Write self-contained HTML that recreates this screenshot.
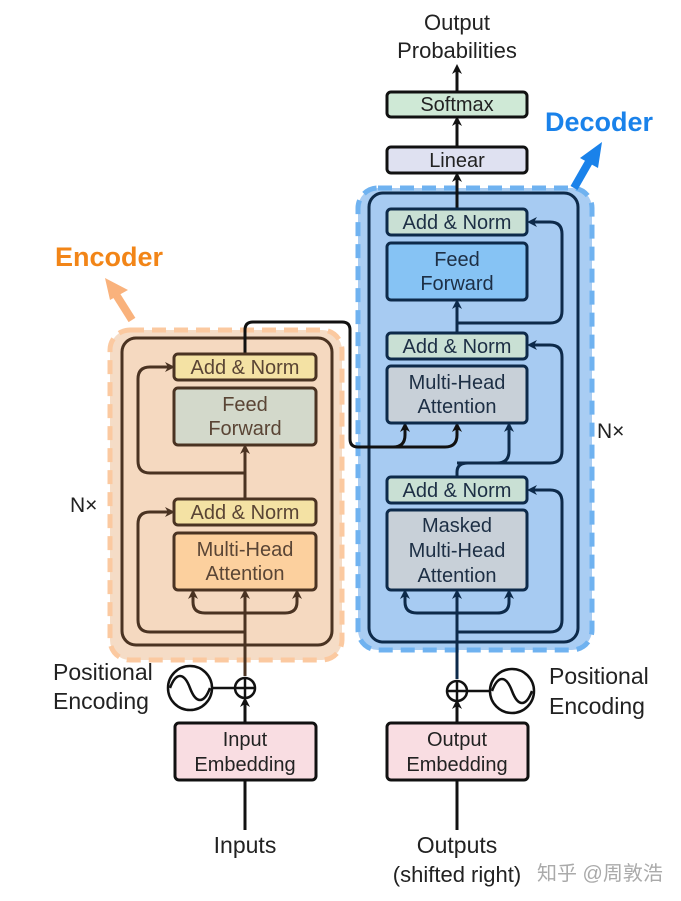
<!DOCTYPE html>
<html><head><meta charset="utf-8"><style>
html,body{margin:0;padding:0;background:#fff;}
svg{display:block;}
text{font-family:"Liberation Sans","Noto Sans CJK SC",sans-serif;}
</style></head><body>
<svg width="681" height="901" viewBox="0 0 681 901" xmlns="http://www.w3.org/2000/svg">
<defs>
<marker id="ab" markerWidth="10" markerHeight="10" refX="7" refY="5" orient="auto" markerUnits="userSpaceOnUse"><path d="M0,0 L10,5 L0,10 L3,5 z" fill="#111"/></marker>
<marker id="abr" markerWidth="10" markerHeight="10" refX="7" refY="5" orient="auto" markerUnits="userSpaceOnUse"><path d="M0,0 L10,5 L0,10 L3,5 z" fill="#4a3322"/></marker>
<marker id="abb" markerWidth="10" markerHeight="10" refX="7" refY="5" orient="auto" markerUnits="userSpaceOnUse"><path d="M0,0 L10,5 L0,10 L3,5 z" fill="#0d2a4a"/></marker>
</defs>

<rect x="110" y="330" width="232" height="330" rx="20" fill="#f5dcc6" stroke="#fbc9a0" stroke-width="5" stroke-dasharray="14,8"/>
<rect x="122" y="338" width="210" height="307" rx="14" fill="#f5d9c0" stroke="#4a3322" stroke-width="3"/>
<rect x="358" y="188" width="234" height="462" rx="20" fill="#a9cdf3" stroke="#6fb2f0" stroke-width="5" stroke-dasharray="14,8"/>
<rect x="369" y="193" width="209" height="449" rx="14" fill="#a7cbf2" stroke="#0d2a4a" stroke-width="3"/>

<g stroke="#4a3322" stroke-width="3" fill="none">
<line x1="245" y1="830" x2="245" y2="700" stroke="#111" marker-end="url(#ab)"/>
<line x1="245" y1="676" x2="245" y2="592" marker-end="url(#abr)"/>
<path d="M245,613 L205,613 Q193,613 193,602 L193,592" marker-end="url(#abr)"/>
<path d="M245,613 L285,613 Q297,613 297,602 L297,592" marker-end="url(#abr)"/>
<path d="M245,632 L150,632 Q138,632 138,620 L138,524 Q138,512 150,512 L172,512" marker-end="url(#abr)"/>
<line x1="245" y1="500" x2="245" y2="447" marker-end="url(#abr)"/>
<path d="M245,473 L150,473 Q138,473 138,461 L138,379 Q138,367 150,367 L172,367" marker-end="url(#abr)"/>
</g>
<path d="M245,354 L245,330 Q245,322 253,322 L342,322 Q350,322 350,330 L350,439 Q350,447 358,447 L393,447 Q405,447 405,435 L405,425" stroke="#111" stroke-width="3" fill="none" marker-end="url(#ab)"/>
<path d="M393,447 L445,447 Q457,447 457,435 L457,425" stroke="#111" stroke-width="3" fill="none" marker-end="url(#ab)"/>

<g stroke="#0d2a4a" stroke-width="3" fill="none">
<line x1="457" y1="830" x2="457" y2="702" stroke="#111" marker-end="url(#ab)"/>
<line x1="457" y1="679" x2="457" y2="592" marker-end="url(#abb)"/>
<path d="M457,613 L417,613 Q405,613 405,602 L405,592" marker-end="url(#abb)"/>
<path d="M457,613 L497,613 Q509,613 509,602 L509,592" marker-end="url(#abb)"/>
<path d="M457,632 L550,632 Q562,632 562,620 L562,502 Q562,490 550,490 L530,490" marker-end="url(#abb)"/>
<path d="M457,477 L457,472 Q457,463 468,463 L497,463 Q509,463 509,451 L509,425" marker-end="url(#abb)"/>
<path d="M457,463 L550,463 Q562,463 562,451 L562,357 Q562,345 550,345 L530,345" marker-end="url(#abb)"/>
<line x1="457" y1="333" x2="457" y2="302" marker-end="url(#abb)"/>
<path d="M457,323 L550,323 Q562,323 562,311 L562,234 Q562,222 550,222 L530,222" marker-end="url(#abb)"/>
</g>
<g stroke="#111" stroke-width="3" fill="none">
<line x1="457" y1="209" x2="457" y2="175" marker-end="url(#ab)"/>
<line x1="457" y1="147" x2="457" y2="119" marker-end="url(#ab)"/>
<line x1="457" y1="92" x2="457" y2="67" marker-end="url(#ab)"/>
</g>

<g stroke="#4a3322" stroke-width="3">
<rect x="174" y="354" width="142" height="26" rx="4" fill="#f4e2a4"/>
<rect x="174" y="388" width="142" height="57" rx="4" fill="#d3d9cb"/>
<rect x="174" y="499" width="142" height="26" rx="4" fill="#f4e2a4"/>
<rect x="174" y="533" width="142" height="57" rx="4" fill="#fcd09e"/>
</g>
<g font-size="20" fill="#5a4535" text-anchor="middle">
<text x="245" y="374">Add &amp; Norm</text>
<text x="245" y="411">Feed</text><text x="245" y="435">Forward</text>
<text x="245" y="519">Add &amp; Norm</text>
<text x="245" y="556">Multi-Head</text><text x="245" y="580">Attention</text>
</g>

<g stroke="#0d2a4a" stroke-width="3">
<rect x="387" y="209" width="140" height="26" rx="4" fill="#c9e0d4"/>
<rect x="387" y="243" width="140" height="57" rx="4" fill="#86c3f4"/>
<rect x="387" y="333" width="140" height="26" rx="4" fill="#c9e0d4"/>
<rect x="387" y="366" width="140" height="57" rx="4" fill="#c8d0d8"/>
<rect x="387" y="477" width="140" height="26" rx="4" fill="#c9e0d4"/>
<rect x="387" y="510" width="140" height="80" rx="4" fill="#c8d0d8"/>
</g>
<g stroke="#111" stroke-width="3">
<rect x="387" y="147" width="140" height="26" rx="4" fill="#dfe1f1"/>
<rect x="387" y="92" width="140" height="25" rx="4" fill="#cfe9d6"/>
<rect x="175" y="723" width="141" height="57" rx="4" fill="#f9dde2"/>
<rect x="387" y="723" width="141" height="57" rx="4" fill="#f9dde2"/>
</g>
<g font-size="20" fill="#1d2f45" text-anchor="middle">
<text x="457" y="229">Add &amp; Norm</text>
<text x="457" y="266">Feed</text><text x="457" y="290">Forward</text>
<text x="457" y="353">Add &amp; Norm</text>
<text x="457" y="389">Multi-Head</text><text x="457" y="413">Attention</text>
<text x="457" y="497">Add &amp; Norm</text>
<text x="457" y="532">Masked</text><text x="457" y="557">Multi-Head</text><text x="457" y="582">Attention</text>
</g>
<g font-size="20" fill="#222" text-anchor="middle">
<text x="457" y="167">Linear</text>
<text x="457" y="111">Softmax</text>
<text x="245" y="746">Input</text><text x="245" y="771">Embedding</text>
<text x="457" y="746">Output</text><text x="457" y="771">Embedding</text>
<text x="457" y="30" font-size="22">Output</text>
<text x="457" y="58" font-size="22">Probabilities</text>
<text x="245" y="853" font-size="23">Inputs</text>
<text x="457" y="853" font-size="23">Outputs</text>
<text x="457" y="882" font-size="22">(shifted right)</text>
</g>

<g stroke="#111" stroke-width="2.5" fill="#fff">
<line x1="212" y1="688" x2="235" y2="688"/>
<circle cx="190" cy="688" r="22"/>
<path d="M170,688 C176,672 184,672 190,688 C196,704 204,704 210,688" fill="none"/>
<circle cx="245" cy="688" r="10"/>
<line x1="235" y1="688" x2="255" y2="688"/><line x1="245" y1="678" x2="245" y2="698"/>
<line x1="467" y1="691" x2="490" y2="691"/>
<circle cx="512" cy="691" r="22"/>
<path d="M492,691 C498,675 506,675 512,691 C518,707 526,707 532,691" fill="none"/>
<circle cx="457" cy="691" r="10"/>
<line x1="447" y1="691" x2="467" y2="691"/><line x1="457" y1="681" x2="457" y2="701"/>
</g>
<g font-size="23" fill="#222">
<text x="53" y="680">Positional</text><text x="53" y="709">Encoding</text>
<text x="549" y="684">Positional</text><text x="549" y="714">Encoding</text>
<text x="70" y="512" font-size="21">N×</text>
<text x="597" y="438" font-size="21">N×</text>
</g>

<text x="55" y="266" font-size="27" font-weight="bold" fill="#f28517">Encoder</text>
<path d="M132,320 L115,293" stroke="#f9b27c" stroke-width="8"/>
<path d="M105,278 L128,290 L110,300 z" fill="#f9b27c"/>
<text x="545" y="131" font-size="27" font-weight="bold" fill="#1a82ea">Decoder</text>
<path d="M574,188 L590,160" stroke="#1a82ea" stroke-width="8"/>
<path d="M602,142 L598,168 L580,158 z" fill="#1a82ea"/>
<text x="537" y="880" font-size="20" fill="#aaa">知乎 @周敦浩</text>
</svg>
</body></html>
